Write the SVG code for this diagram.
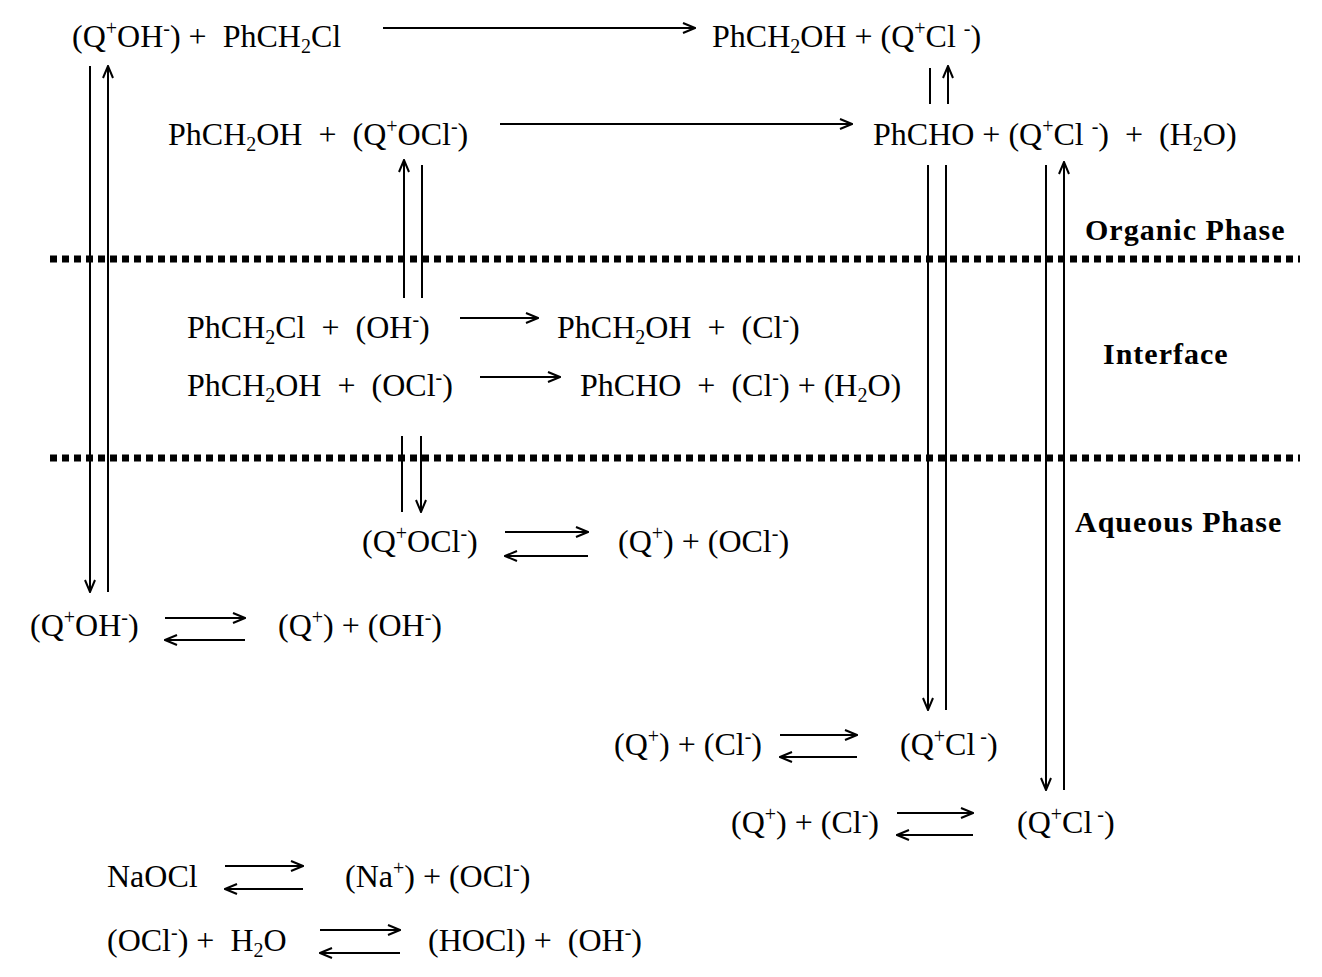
<svg xmlns="http://www.w3.org/2000/svg" width="1322" height="977" viewBox="0 0 1322 977">
<style>
text{font-family:"Liberation Serif",serif;font-size:32px;fill:#000;white-space:pre}
.b{font-weight:bold;font-size:30px;letter-spacing:1px}
.s{font-size:20px}
line{stroke:#000;stroke-width:2}
.d{stroke-width:7;stroke-dasharray:7 5}
.a{marker-end:url(#m)}
</style>
<defs><marker id="m" markerWidth="14" markerHeight="12" refX="13" refY="6" orient="auto" markerUnits="userSpaceOnUse"><path d="M1,1 L13,6 L1,11" fill="none" stroke="#000" stroke-width="2"/></marker></defs>
<rect width="1322" height="977" fill="#fff"/>
<g id="t1"><text x="72" y="47">(Q<tspan class="s" dy="-12">+</tspan><tspan dy="12">OH</tspan><tspan class="s" dy="-12">-</tspan><tspan dy="12">) +  PhCH</tspan><tspan class="s" dy="6">2</tspan><tspan dy="-6">Cl</tspan></text></g>
<g id="t2"><text x="712" y="47">PhCH<tspan class="s" dy="6">2</tspan><tspan dy="-6">OH + (Q</tspan><tspan class="s" dy="-12">+</tspan><tspan dy="12">Cl </tspan><tspan class="s" dy="-12">-</tspan><tspan dy="12">)</tspan></text></g>
<g id="t3"><text x="168" y="145">PhCH<tspan class="s" dy="6">2</tspan><tspan dy="-6">OH  +  (Q</tspan><tspan class="s" dy="-12">+</tspan><tspan dy="12">OCl</tspan><tspan class="s" dy="-12">-</tspan><tspan dy="12">)</tspan></text></g>
<g id="t4"><text x="873" y="145">PhCHO + (Q<tspan class="s" dy="-12">+</tspan><tspan dy="12">Cl </tspan><tspan class="s" dy="-12">-</tspan><tspan dy="12">)  +  (H</tspan><tspan class="s" dy="6">2</tspan><tspan dy="-6">O)</tspan></text></g>
<g id="labels"><text class="b" x="1085" y="240">Organic Phase</text><text class="b" x="1103" y="364">Interface</text><text class="b" x="1075" y="532">Aqueous Phase</text></g>
<g id="t5"><text x="187" y="338">PhCH<tspan class="s" dy="6">2</tspan><tspan dy="-6">Cl  +  (OH</tspan><tspan class="s" dy="-12">-</tspan><tspan dy="12">)</tspan></text></g>
<g id="t6"><text x="557" y="338">PhCH<tspan class="s" dy="6">2</tspan><tspan dy="-6">OH  +  (Cl</tspan><tspan class="s" dy="-12">-</tspan><tspan dy="12">)</tspan></text></g>
<g id="t7"><text x="187" y="396">PhCH<tspan class="s" dy="6">2</tspan><tspan dy="-6">OH  +  (OCl</tspan><tspan class="s" dy="-12">-</tspan><tspan dy="12">)</tspan></text></g>
<g id="t8"><text x="580" y="396">PhCHO  +  (Cl<tspan class="s" dy="-12">-</tspan><tspan dy="12">) + (H</tspan><tspan class="s" dy="6">2</tspan><tspan dy="-6">O)</tspan></text></g>
<g id="t9"><text x="362" y="552">(Q<tspan class="s" dy="-12">+</tspan><tspan dy="12">OCl</tspan><tspan class="s" dy="-12">-</tspan><tspan dy="12">)</tspan></text></g>
<g id="t10"><text x="618" y="552">(Q<tspan class="s" dy="-12">+</tspan><tspan dy="12">) + (OCl</tspan><tspan class="s" dy="-12">-</tspan><tspan dy="12">)</tspan></text></g>
<g id="t11"><text x="30" y="636">(Q<tspan class="s" dy="-12">+</tspan><tspan dy="12">OH</tspan><tspan class="s" dy="-12">-</tspan><tspan dy="12">)</tspan></text></g>
<g id="t12"><text x="278" y="636">(Q<tspan class="s" dy="-12">+</tspan><tspan dy="12">) + (OH</tspan><tspan class="s" dy="-12">-</tspan><tspan dy="12">)</tspan></text></g>
<g id="t13"><text x="614" y="755">(Q<tspan class="s" dy="-12">+</tspan><tspan dy="12">) + (Cl</tspan><tspan class="s" dy="-12">-</tspan><tspan dy="12">)</tspan></text></g>
<g id="t14"><text x="900" y="755">(Q<tspan class="s" dy="-12">+</tspan><tspan dy="12">Cl</tspan><tspan class="s" dy="-12"> -</tspan><tspan dy="12">)</tspan></text></g>
<g id="t15"><text x="731" y="833">(Q<tspan class="s" dy="-12">+</tspan><tspan dy="12">) + (Cl</tspan><tspan class="s" dy="-12">-</tspan><tspan dy="12">)</tspan></text></g>
<g id="t16"><text x="1017" y="833">(Q<tspan class="s" dy="-12">+</tspan><tspan dy="12">Cl</tspan><tspan class="s" dy="-12"> -</tspan><tspan dy="12">)</tspan></text></g>
<g id="t17"><text x="107" y="887">NaOCl</text></g>
<g id="t18"><text x="345" y="887">(Na<tspan class="s" dy="-12">+</tspan><tspan dy="12">) + (OCl</tspan><tspan class="s" dy="-12">-</tspan><tspan dy="12">)</tspan></text></g>
<g id="t19"><text x="107" y="951">(OCl<tspan class="s" dy="-12">-</tspan><tspan dy="12">) +  H</tspan><tspan class="s" dy="6">2</tspan><tspan dy="-6">O</tspan></text></g>
<g id="t20"><text x="428" y="951">(HOCl) +  (OH<tspan class="s" dy="-12">-</tspan><tspan dy="12">)</tspan></text></g>
<g id="dots"><line class="d" x1="50" y1="259" x2="1300" y2="259"/><line class="d" x1="50" y1="458" x2="1300" y2="458"/></g>
<g id="connectors">
<line class="a" x1="383" y1="28" x2="695" y2="28"/>
<line class="a" x1="500" y1="124" x2="852" y2="124"/>
<line class="a" x1="460" y1="318" x2="538" y2="318"/>
<line class="a" x1="480" y1="377" x2="560" y2="377"/>
<line class="a" x1="90" y1="66" x2="90" y2="592"/>
<line class="a" x1="108" y1="592" x2="108" y2="66"/>
<line x1="930" y1="68" x2="930" y2="104"/>
<line class="a" x1="948" y1="104" x2="948" y2="66"/>
<line class="a" x1="404" y1="298" x2="404" y2="160"/>
<line x1="422" y1="165" x2="422" y2="298"/>
<line x1="402" y1="436" x2="402" y2="512"/>
<line class="a" x1="421" y1="436" x2="421" y2="512"/>
<line class="a" x1="928" y1="165" x2="928" y2="710"/>
<line x1="946" y1="165" x2="946" y2="710"/>
<line class="a" x1="1046" y1="165" x2="1046" y2="790"/>
<line class="a" x1="1064" y1="790" x2="1064" y2="162"/>
<line class="a" x1="505" y1="532" x2="588" y2="532"/><line class="a" x1="588" y1="556" x2="505" y2="556"/>
<line class="a" x1="165" y1="618" x2="245" y2="618"/><line class="a" x1="245" y1="640" x2="165" y2="640"/>
<line class="a" x1="780" y1="735" x2="857" y2="735"/><line class="a" x1="857" y1="757" x2="780" y2="757"/>
<line class="a" x1="897" y1="813" x2="973" y2="813"/><line class="a" x1="973" y1="835" x2="897" y2="835"/>
<line class="a" x1="225" y1="866" x2="303" y2="866"/><line class="a" x1="303" y1="889" x2="225" y2="889"/>
<line class="a" x1="320" y1="930" x2="400" y2="930"/><line class="a" x1="400" y1="953" x2="320" y2="953"/>
</g>
</svg>
